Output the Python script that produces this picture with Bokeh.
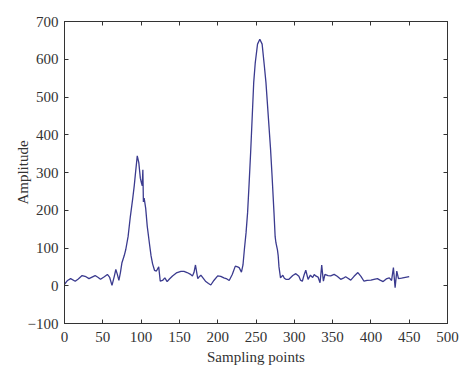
from bokeh.plotting import figure
from bokeh.models import LinearAxis, Range1d, FixedTicker, CustomLabelingPolicy
from bokeh.embed import file_html
from bokeh.resources import INLINE

x_vals = [0, 4, 8, 14, 18, 23, 28, 32, 36, 40, 44, 47, 52, 56, 59, 62, 65, 67, 69, 71,
          73, 75, 78, 80, 83, 86, 89, 91, 93, 95, 97, 99, 100.5, 101.5, 102.3, 103, 104, 106,
          108, 111, 113, 115, 117.5, 120, 123, 125, 128, 131, 134, 137, 141, 146, 152, 156,
          160, 164, 167, 169, 171, 173, 174, 176, 178, 181, 184, 188, 191, 195, 200, 204,
          208, 212, 215, 219, 223, 226, 228, 231, 233, 235, 237, 239, 241, 243, 245, 247,
          249, 252, 255, 258, 261, 263, 266, 269, 271, 273.5, 275, 276, 278, 279, 280, 282,
          285, 287, 289, 293, 298, 302, 306, 308, 310.5, 313, 315, 318, 321, 324, 326, 328,
          331, 333.6, 335.8, 337, 338, 340, 344, 347.5, 352, 356, 360.6, 364, 367, 370,
          373.7, 378, 383, 387, 391, 395, 400, 404, 408.5, 412, 416, 420, 424, 427, 429.4,
          431.6, 433.8, 436, 440, 445, 450]
y_vals = [4, 14, 19, 12, 18, 27, 24, 19, 23, 27, 22, 17, 24, 30, 22, 1, 25, 43, 30, 14,
          35, 61, 80, 96, 130, 184, 230, 264, 305, 344, 326, 285, 272, 265, 307, 222, 232, 205,
          158, 110, 79, 58, 41, 39, 50, 12, 14, 21, 11, 18, 26, 34, 38, 38,
          35, 31, 26, 35, 55, 30, 19, 24, 28, 20, 12, 6, 2, 14, 26, 25,
          21, 18, 14, 30, 52, 50, 48, 36, 55, 100, 140, 193, 270, 353, 445, 538,
          590, 640, 653, 640, 580, 538, 450, 362, 290, 193, 130, 114, 95, 79, 50, 21,
          28, 20, 17, 17, 27, 32, 25, 15, 12, 30, 41, 17, 28, 22, 30, 26,
          23, 8, 55, 30, 12, 30, 27, 26, 30, 25, 17, 20, 24, 20,
          15, 25, 35, 25, 12, 14, 15, 17, 19, 15, 11, 18, 21, 14, 48,
          -5, 39, 19, 20, 22, 24]

x_ticks = [0, 50, 100, 150, 200, 250, 300, 350, 400, 450, 500]
y_ticks = [-100, 0, 100, 200, 300, 400, 500, 600, 700]

FONT = "Liberation Serif"
TXT = "#333333"

p = figure(frame_width=383, frame_height=302, output_backend="svg", toolbar_location=None,
           x_range=Range1d(0, 500), y_range=Range1d(-100, 700),
           min_border_left=64, min_border_right=12, min_border_top=21,
           min_border_bottom=40, x_axis_location=None, y_axis_location=None)
p.grid.visible = False
p.outline_line_color = "#333333"
p.outline_line_width = 1
p.background_fill_color = "white"
p.border_fill_color = "white"

def style(ax, labels=True):
    ax.major_tick_in = 4
    ax.major_tick_out = 0
    ax.minor_tick_line_color = None
    ax.axis_line_color = "#333333"
    ax.major_tick_line_color = "#333333"
    ax.major_label_text_font = FONT
    ax.major_label_text_color = TXT
    ax.axis_label_text_font = FONT
    ax.axis_label_text_color = TXT
    ax.axis_label_text_font_style = "normal"
    ax.axis_label_text_font_size = "15px"
    ax.major_label_text_font_size = "15px"
    if not labels:
        ax.major_label_policy = CustomLabelingPolicy(code="return new Set()")
        ax.major_label_standoff = 0

xb = LinearAxis(ticker=FixedTicker(ticks=x_ticks), axis_label="Sampling points")
style(xb)
xb.major_label_standoff = 8
xb.axis_label_standoff = 4
p.add_layout(xb, "below")

yl = LinearAxis(ticker=FixedTicker(ticks=y_ticks), axis_label="Amplitude")
style(yl)
yl.major_label_standoff = 6
yl.axis_label_standoff = -6
yl.major_label_overrides = {-100: "\u2212100"}
p.add_layout(yl, "left")

xt = LinearAxis(ticker=FixedTicker(ticks=x_ticks))
style(xt, labels=False)
p.add_layout(xt, "above")

yr = LinearAxis(ticker=FixedTicker(ticks=y_ticks))
style(yr, labels=False)
p.add_layout(yr, "right")

p.line(x_vals, y_vals, line_color="#3b3b8f", line_width=1.3)

open("out.html", "w").write(file_html(p, INLINE))
